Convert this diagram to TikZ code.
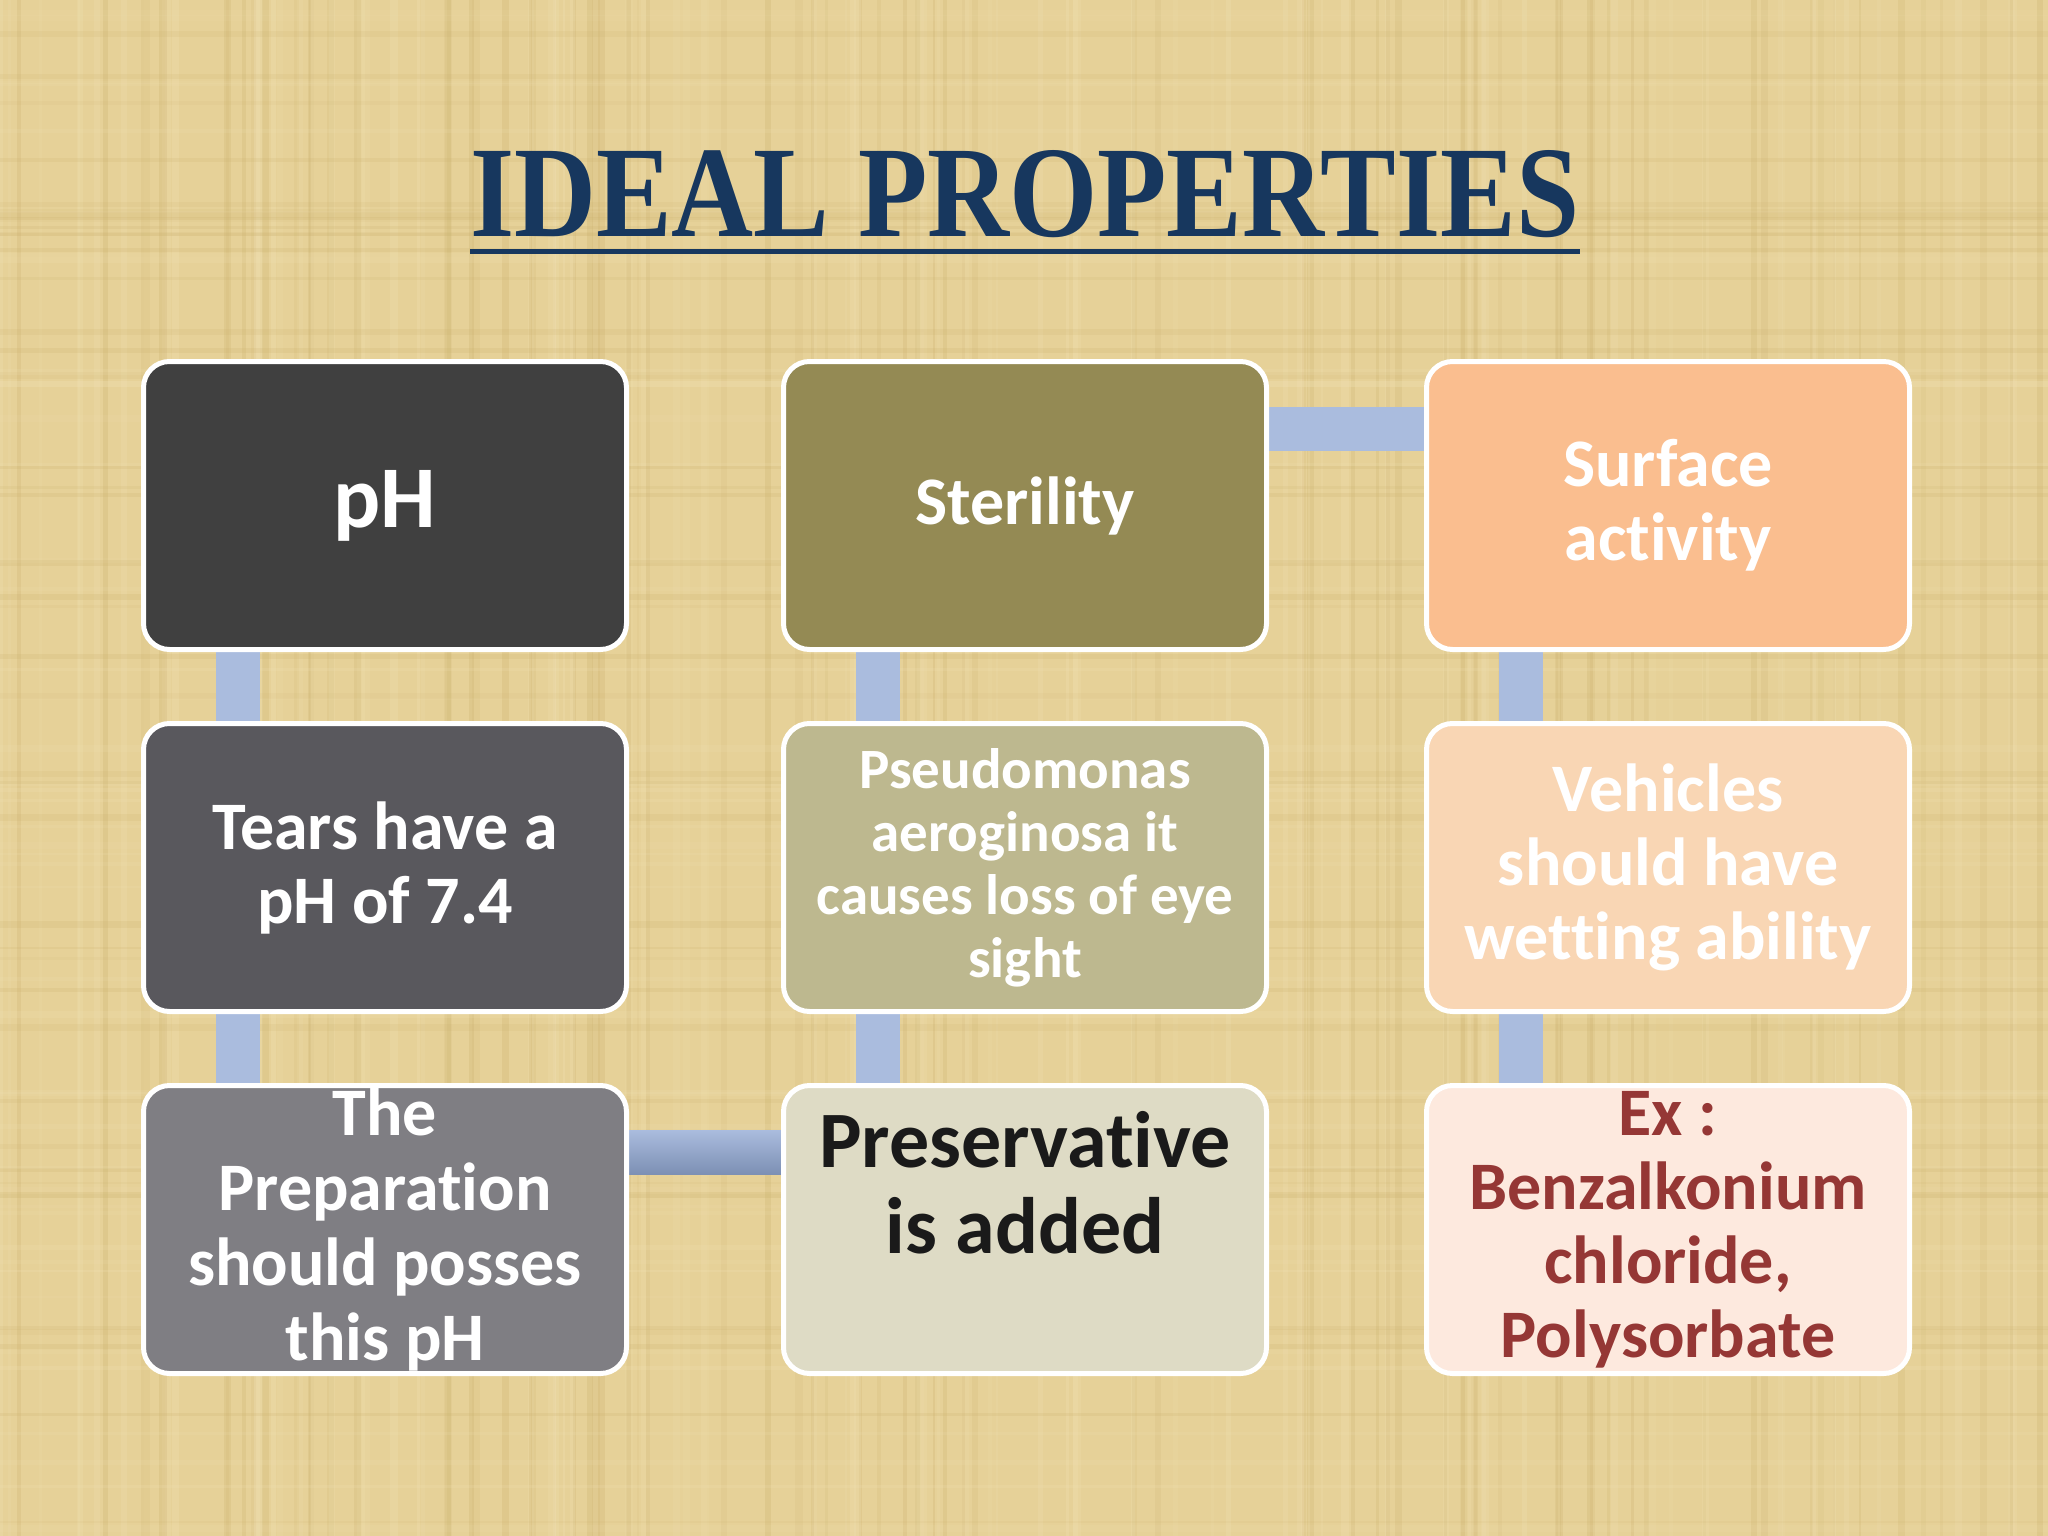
\documentclass[tikz,border=0pt]{standalone}
\usepackage{fontspec}
\setmainfont{Carlito}[Ligatures=NoCommon]
\newfontfamily\titlefont{Liberation Serif}
\pgfdeclarelayer{back}
\pgfdeclarelayer{mid}
\pgfsetlayers{back,mid,main}
\definecolor{bgc}{HTML}{E6D198}
\definecolor{bglight}{HTML}{F3E4B8}
\definecolor{bgdark}{HTML}{C9AE6A}
\definecolor{navy}{HTML}{17375E}
\definecolor{barc}{HTML}{AABCDE}
\definecolor{barlo}{HTML}{7D90B4}
\definecolor{cA}{HTML}{404040}
\definecolor{cB}{HTML}{59585D}
\definecolor{cC}{HTML}{7F7E83}
\definecolor{cD}{HTML}{948A54}
\definecolor{cE}{HTML}{BDB88F}
\definecolor{cF}{HTML}{DEDBC5}
\definecolor{cG}{HTML}{FABE8F}
\definecolor{cH}{HTML}{F9D6B4}
\definecolor{cI}{HTML}{FDE9DE}
\definecolor{redt}{HTML}{953735}
\definecolor{darkt}{HTML}{1A1A1A}
\tikzset{
  box/.style={draw=white, line width=5pt, rounded corners=26pt,
    minimum width=483pt, minimum height=288pt, anchor=north west,
    align=center, text=white, inner sep=0pt},
  conn/.style={draw=barc, line width=44pt},
  fA/.style={font=\bfseries\fontsize{88}{100}\selectfont},
  fB/.style={font=\bfseries\fontsize{68}{80}\selectfont},
  fC/.style={font=\bfseries\fontsize{68}{74}\selectfont},
  fD/.style={font=\bfseries\fontsize{57}{63}\selectfont},
  fE/.style={font=\bfseries\fontsize{68}{75}\selectfont},
  fF/.style={font=\bfseries\fontsize{80}{86}\selectfont},
}
\begin{document}
\begin{tikzpicture}[x=1pt,y=-1pt]
\useasboundingbox (0,0) rectangle (2048,1536);
\begin{pgfonlayer}{back}
\begin{scope}
\clip (0,0) rectangle (2048,1536);
\fill[bgc] (0,0) rectangle (2048,1536);
\pgfmathsetseed{7}
\foreach \i in {1,...,160}{
  \pgfmathsetmacro{\xx}{rnd*2040}
  \pgfmathsetmacro{\ww}{2+rnd*6}
  \pgfmathsetmacro{\oo}{0.10+rnd*0.15}
  \ifodd\i
    \fill[bglight, opacity=\oo] (\xx,0) rectangle ++(\ww,1536);
  \else
    \fill[bgdark, opacity=\oo] (\xx,0) rectangle ++(\ww,1536);
  \fi
}
\foreach \i in {1,...,90}{
  \pgfmathsetmacro{\yy}{rnd*1528}
  \pgfmathsetmacro{\ww}{2+rnd*5}
  \pgfmathsetmacro{\oo}{0.08+rnd*0.12}
  \ifodd\i
    \fill[bglight, opacity=\oo] (0,\yy) rectangle ++(2048,\ww);
  \else
    \fill[bgdark, opacity=\oo] (0,\yy) rectangle ++(2048,\ww);
  \fi
}
\end{scope}
\end{pgfonlayer}

% title
\node[anchor=south west, inner sep=0pt, text=navy] (title) at (470,238)
  {\resizebox{1108pt}{86pt}{\titlefont\bfseries IDEAL PROPERTIES}};
\draw[navy, line width=5pt] ([yshift=-13pt]title.south west) -- ([yshift=-13pt]title.south east);

% boxes
\node[box, fill=cA, fA] (ph) at (141,359) {pH};
\node[box, fill=cB, fC] (tears) at (141,721) {Tears have a\\pH of 7.4};
\node[box, fill=cC, fE] (prep) at (141,1083) {The\\Preparation\\should posses\\this pH};

\node[box, fill=cD, fB] (ster) at (781,359) {Sterility};
\node[box, fill=cE, fD] (pseudo) at (781,721) {Pseudomonas\\aeroginosa it\\causes loss of eye\\sight};
\node[box, fill=cF] (pres) at (781,1083) {};
\node[anchor=north, inner sep=0pt, align=center, text=darkt, fF] (presT) at ([yshift=-28pt]pres.north) {Preservative\\is added};

\node[box, fill=cG, fC] (surf) at (1424,359) {Surface\\activity};
\node[box, fill=cH, fC] (veh) at (1424,721) {Vehicles\\should have\\wetting ability};
\node[box, fill=cI, fC, text=redt] (ex) at (1424,1083) {Ex :\\Benzalkonium\\chloride,\\Polysorbate};

% connectors
\begin{pgfonlayer}{mid}
\draw[conn] ([xshift=97pt]ph.south west) -- ([xshift=97pt]tears.north west);
\draw[conn] ([xshift=97pt]tears.south west) -- ([xshift=97pt]prep.north west);
\draw[conn] ([xshift=97pt]ster.south west) -- ([xshift=97pt]pseudo.north west);
\draw[conn] ([xshift=97pt]pseudo.south west) -- ([xshift=97pt]pres.north west);
\draw[conn] ([xshift=97pt]surf.south west) -- ([xshift=97pt]veh.north west);
\draw[conn] ([xshift=97pt]veh.south west) -- ([xshift=97pt]ex.north west);
\draw[conn] ([yshift=-70pt]ster.north east) -- ([yshift=-70pt]surf.north west);
\shade[top color=barc, bottom color=barlo] ([yshift=-47pt]prep.north east) rectangle ([yshift=-91pt]pres.north west);
\end{pgfonlayer}
\end{tikzpicture}
\end{document}
